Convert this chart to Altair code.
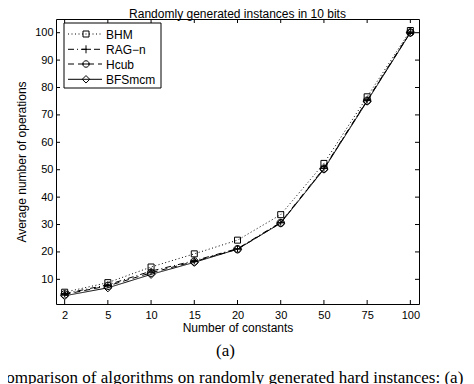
import altair as alt
import pandas as pd

x_labels = ["2", "5", "10", "15", "20", "30", "50", "75", "100"]
series_names = ["BHM", "RAG\u2212n", "Hcub", "BFSmcm"]
bhm = [5.3, 8.8, 14.5, 19.3, 24.3, 33.6, 52.3, 76.6, 100.8]
ragn = [4.8, 8.0, 13.0, 16.8, 21.2, 30.8, 50.6, 75.4, 100.3]
hcub = [4.5, 7.6, 12.4, 16.5, 21.0, 30.6, 50.4, 75.2, 100.1]
bfs = [4.0, 6.9, 11.8, 16.2, 21.0, 30.5, 50.2, 75.0, 100.0]
y_ticks = [10, 20, 30, 40, 50, 60, 70, 80, 90, 100]

title_text = "Randomly generated instances in 10 bits"
x_title = "Number of constants"
y_title = "Average number of operations"
caption_text = "(a)"
footer_text = "Comparison of algorithms on randomly generated hard instances: (a) v"

W, H = 363, 285
SANS = "Liberation Sans"
SERIF = "Liberation Serif"

rows = []
for name, vals in zip(series_names, [bhm, ragn, hcub, bfs]):
    for i, (xl, v) in enumerate(zip(x_labels, vals)):
        rows.append({"series": name, "xl": xl, "idx": i, "val": v})
df = pd.DataFrame(rows)

dashes = [[1, 2.5], [6, 3, 1, 3], [6, 4], [1, 0]]
plus_path = "M-1,0L1,0M0,-1L0,1"
hcub_path = "M-1,0A1,1,0,1,1,1,0A1,1,0,1,1,-1,0ZM-1,0L1,0"
shapes = ["square", plus_path, hcub_path, "diamond"]
sizes = [36, 64, 42, 56]

sc_x = alt.Scale(type="point", padding=0.2, domain=x_labels)
sc_y = alt.Scale(domain=[1, 105], nice=False, zero=False)
ax_x = alt.Axis(title=x_title, labelAngle=0, ticks=False, tickSize=0, domain=False,
                grid=False, labelPadding=5, titlePadding=2, labelFontSize=11,
                titleFontSize=12, labelFont=SANS, titleFont=SANS, labelColor="black",
                titleColor="black", titleFontWeight="normal")
ax_y = alt.Axis(title=y_title, values=y_ticks, ticks=False, tickSize=0, domain=False,
                grid=False, labelPadding=3, titlePadding=6, labelFontSize=11,
                titleFontSize=12, labelFont=SANS, titleFont=SANS, labelColor="black",
                titleColor="black", titleFontWeight="normal")

X = alt.X("xl:N", scale=sc_x, axis=ax_x, sort=x_labels)
Y = alt.Y("val:Q", scale=sc_y, axis=ax_y)

lines = alt.Chart(df).mark_line(color="black", strokeWidth=1).encode(
    x=X, y=Y,
    strokeDash=alt.StrokeDash("series:N", scale=alt.Scale(domain=series_names, range=dashes), legend=None),
    detail="series:N",
    order=alt.Order("idx:Q"),
)
points = alt.Chart(df).mark_point(color="black", filled=False, strokeWidth=1, opacity=1).encode(
    x=X, y=Y,
    shape=alt.Shape("series:N", scale=alt.Scale(domain=series_names, range=shapes), legend=None),
    size=alt.Size("series:N", scale=alt.Scale(domain=series_names, range=sizes), legend=None),
)

xt = pd.DataFrame({"xl": x_labels})
yt = pd.DataFrame({"val": y_ticks})
tick_b = alt.Chart(xt).mark_rule(color="black", strokeWidth=1).encode(x=X, y=alt.value(H), y2=alt.value(H - 4))
tick_t = alt.Chart(xt).mark_rule(color="black", strokeWidth=1).encode(x=X, y=alt.value(0), y2=alt.value(4))
tick_l = alt.Chart(yt).mark_rule(color="black", strokeWidth=1).encode(y=Y, x=alt.value(0), x2=alt.value(4))
tick_r = alt.Chart(yt).mark_rule(color="black", strokeWidth=1).encode(y=Y, x=alt.value(W), x2=alt.value(W - 4))

# legend
one = pd.DataFrame({"k": [0]})
legend_layers = [
    alt.Chart(one).mark_rect(fill="white", stroke="black", strokeWidth=1).encode(
        x=alt.value(8), x2=alt.value(105), y=alt.value(4), y2=alt.value(69))
]
ly = [15, 30.3, 45, 60.3]
for name, d, shp, sz, yy in zip(series_names, dashes, shapes, sizes, ly):
    legend_layers.append(alt.Chart(one).mark_rule(color="black", strokeWidth=1, strokeDash=d).encode(
        x=alt.value(12), x2=alt.value(46), y=alt.value(yy)))
    legend_layers.append(alt.Chart(one).mark_point(color="black", filled=False, strokeWidth=1,
                                                   shape=shp, size=sz, opacity=1).encode(
        x=alt.value(30), y=alt.value(yy)))
    legend_layers.append(alt.Chart(pd.DataFrame({"t": [name]})).mark_text(
        font=SANS, fontSize=12, align="left", baseline="middle", color="black").encode(
        x=alt.value(50), y=alt.value(yy + 0.5), text="t:N"))

title = alt.Chart(pd.DataFrame({"t": [title_text]})).mark_text(
    font=SANS, fontSize=12, align="center", baseline="alphabetic", color="black").encode(
    x=alt.value(W / 2), y=alt.value(-1.5), text="t:N")
caption = alt.Chart(pd.DataFrame({"t": [caption_text]})).mark_text(
    font=SERIF, fontSize=17, align="center", baseline="middle", color="black").encode(
    x=alt.value(169.5), y=alt.value(332), text="t:N")
footer = alt.Chart(pd.DataFrame({"t": [footer_text]})).mark_text(
    font=SERIF, fontSize=17, align="left", baseline="alphabetic", color="black").encode(
    x=alt.value(-61), y=alt.value(363.5), text="t:N")

chart = alt.layer(
    lines, points, tick_b, tick_t, tick_l, tick_r, *legend_layers, title, caption, footer
).properties(
    width=W, height=H,
    autosize=alt.AutoSizeParams(type="none"),
    padding={"left": 48, "top": 11, "right": 47, "bottom": 80},
    background="white",
).configure_view(stroke="black", strokeWidth=1)

chart.save("out.html", embed_options={"renderer": "svg", "actions": False})
